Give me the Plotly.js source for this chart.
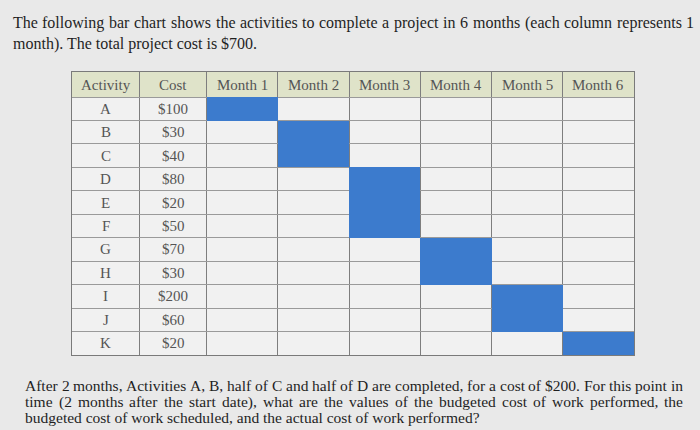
<!DOCTYPE html>
<html>
<head>
<meta charset="utf-8">
<script src="https://cdn.plot.ly/plotly-3.0.1.min.js"></script>
<style>html,body{margin:0;padding:0;background:#e9e9e9;}#chart{width:700px;height:430px;}</style>
</head>
<body>
<div id="chart"></div>
<script>
// ---- data ----
const activities = ['A','B','C','D','E','F','G','H','I','J','K'];
const costs = [100, 30, 40, 80, 20, 50, 70, 30, 200, 60, 20];
const startMonth = [1, 2, 2, 3, 3, 3, 4, 4, 5, 5, 6];
const durationMonths = [1, 1, 1, 1, 1, 1, 1, 1, 1, 1, 1];
const monthLabels = ['Month 1','Month 2','Month 3','Month 4','Month 5','Month 6'];
const columnHeaders = ['Activity', 'Cost'];
const introLines = [
  'The following bar chart shows the activities to complete a project in 6 months (each column represents 1',
  'month). The total project cost is $700.'
];
const questionLines = [
  'After 2 months, Activities A, B, half of C and half of D are completed, for a cost of $200. For this point in',
  'time (2 months after the start date), what are the values of the budgeted cost of work performed, the',
  'budgeted cost of work scheduled, and the actual cost of work performed?'
];

// ---- layout geometry ----
const L = 72, R = 634, T = 72, B = 355, W = 700, H = 430;
const pw = R - L, ph = B - T;
const px2x = p => (p - L) / pw;
const py2y = p => (B - p) / ph;
const X0 = -1.89, XC = -0.94;          // left edges of Activity / Cost columns (month units)
const YH = -1.07;                       // top of header row (row units)

const serifName = 'Liberation Serif';
const serif = serifName + ', Times New Roman, serif';
const cellFont = {family: serif, size: 15, color: '#555'};

const trace = {
  type: 'bar',
  orientation: 'h',
  y: activities.map((a, i) => i + 0.5),
  base: startMonth.map(m => m - 1),
  x: durationMonths,
  width: 1,
  marker: {color: '#3c7bcd', line: {width: 0}},
  hoverinfo: 'skip',
  showlegend: false
};

const annotations = [];
const colCenters = [(X0 + XC) / 2, XC / 2];
columnHeaders.forEach((h, j) => annotations.push({x: colCenters[j], y: YH / 2, xref: 'x', yref: 'y', text: h, showarrow: false, font: cellFont}));
monthLabels.forEach((m, j) => annotations.push({x: j + 0.5, y: YH / 2, xref: 'x', yref: 'y', text: m, showarrow: false, font: cellFont}));
activities.forEach((a, i) => {
  annotations.push({x: colCenters[0], y: i + 0.5, xref: 'x', yref: 'y', text: a, showarrow: false, font: cellFont});
  annotations.push({x: colCenters[1], y: i + 0.5, xref: 'x', yref: 'y', text: '$' + costs[i], showarrow: false, font: cellFont});
});

// paragraph lines (justified like the source text)
const ctx = document.createElement('canvas').getContext('2d');
function measure(t, size) { ctx.font = size + 'px "' + serifName + '"'; return ctx.measureText(t).width; }
function addLine(text, xl, xr, yc, size, justify) {
  const font = {family: serif, size: size, color: '#1f1f1f'};
  const base = {xref: 'paper', yref: 'paper', xanchor: 'left', yanchor: 'middle', showarrow: false, borderpad: 0, font: font};
  if (!justify) { annotations.push(Object.assign({x: px2x(xl), y: py2y(yc), text: text}, base)); return; }
  const words = text.split(' ');
  const ws = words.map(w => measure(w, size));
  const sum = ws.reduce((a, b) => a + b, 0);
  const gap = (xr - xl - sum) / (words.length - 1);
  let x = xl;
  words.forEach((w, k) => {
    annotations.push(Object.assign({x: px2x(x), y: py2y(yc), text: w}, base));
    x += ws[k] + gap;
  });
}
addLine(introLines[0], 12, 693, 22.5, 16, true);
addLine(introLines[1], 12, 0, 44.5, 16, false);
addLine(questionLines[0], 24, 682, 385, 15.5, true);
addLine(questionLines[1], 24, 682, 401.5, 15.5, true);
addLine(questionLines[2], 24, 0, 417, 15.5, false);

const layout = {
  width: W, height: H,
  margin: {l: L, r: W - R, t: T, b: H - B, pad: 0},
  paper_bgcolor: '#e9e9e9',
  plot_bgcolor: '#f1f1f1',
  bargap: 0,
  xaxis: {range: [X0, 6], tickvals: [X0, XC, 0, 1, 2, 3, 4, 5, 6], showticklabels: false, ticks: '', showgrid: true, gridcolor: '#7e7e7e', gridwidth: 1, zeroline: false, showline: true, linecolor: '#7a7a7a', mirror: true, fixedrange: true},
  yaxis: {range: [11, YH], tickvals: [YH, 0, 1, 2, 3, 4, 5, 6, 7, 8, 9, 10, 11], showticklabels: false, ticks: '', showgrid: true, gridcolor: '#9a9a9a', gridwidth: 1, zeroline: false, showline: true, linecolor: '#7a7a7a', mirror: true, fixedrange: true},
  shapes: [{type: 'rect', xref: 'x', yref: 'y', x0: X0, x1: 6, y0: YH, y1: 0, fillcolor: '#dfe3c9', line: {width: 0}, layer: 'below'}],
  annotations: annotations,
  showlegend: false
};

Plotly.newPlot('chart', [trace], layout, {displayModeBar: false, staticPlot: true});
</script>
</body>
</html>
